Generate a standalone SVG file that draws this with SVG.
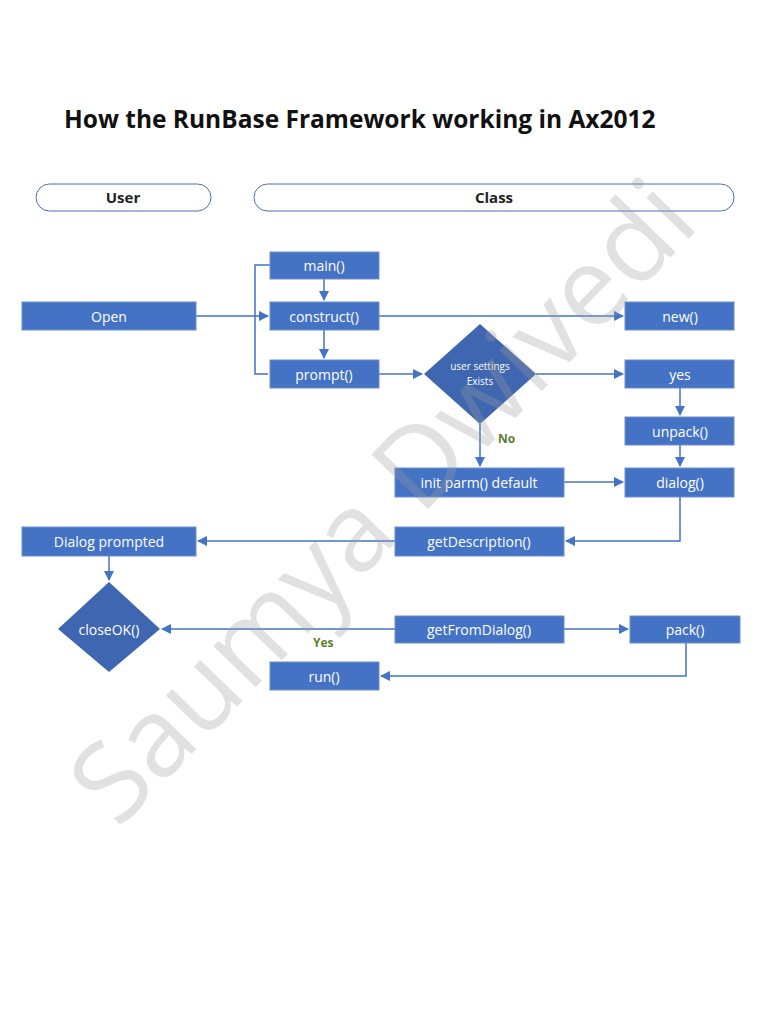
<svg xmlns="http://www.w3.org/2000/svg" width="768" height="1024" viewBox="0 0 768 1024">
<style>
.b{fill:#4472C4;stroke:#6E8FCB;stroke-width:1}
.d{fill:#3F66B0}
.t{font-family:"Liberation Sans Narrow","Open Sans",sans-serif;font-size:14px;fill:#fff;text-anchor:middle;dominant-baseline:central}
.s{font-size:10px}
.h{fill:#fff;stroke:#4A6FB0;stroke-width:1}
.ht{font-family:"Open Sans",sans-serif;font-weight:bold;font-size:15px;fill:#222;text-anchor:middle;dominant-baseline:central}
.c{fill:none;stroke:#4472C4;stroke-width:1.5}
.g{font-family:"Open Sans",sans-serif;font-weight:bold;font-size:12px;fill:#5A7F2E}
</style>
<defs><marker id="a" viewBox="0 0 10 10" refX="9" refY="5" markerWidth="7" markerHeight="7" orient="auto"><path d="M0,0L10,5L0,10z" fill="#4472C4"/></marker></defs>
<rect width="768" height="1024" fill="#fff"/>
<text x="64" y="128" font-family="Open Sans,sans-serif" font-weight="bold" font-size="24.5" fill="#111">How the RunBase Framework working in Ax2012</text>
<g id="hUser"><rect class="h" x="36" y="184" width="175" height="27" rx="13.5"/><text class="ht" x="123" y="197">User</text></g>
<g id="hClass"><rect class="h" x="254" y="184" width="480" height="27" rx="13.5"/><text class="ht" x="494" y="197">Class</text></g>
<g id="connectors">
<path class="c" d="M270,265H255V374H268"/>
<path class="c" d="M196,316H268" marker-end="url(#a)"/>
<path class="c" d="M324,279V300" marker-end="url(#a)"/>
<path class="c" d="M324,330V358" marker-end="url(#a)"/>
<path class="c" d="M379,316H623" marker-end="url(#a)"/>
<path class="c" d="M379,374H422" marker-end="url(#a)"/>
<path class="c" d="M536,374H623" marker-end="url(#a)"/>
<path class="c" d="M680,388V415" marker-end="url(#a)"/>
<path class="c" d="M680,445V466" marker-end="url(#a)"/>
<path class="c" d="M480,424V466" marker-end="url(#a)"/>
<path class="c" d="M564,482H623" marker-end="url(#a)"/>
<path class="c" d="M680,497V541H566" marker-end="url(#a)"/>
<path class="c" d="M395,541H198" marker-end="url(#a)"/>
<path class="c" d="M109,556V580" marker-end="url(#a)"/>
<path class="c" d="M395,629H162" marker-end="url(#a)"/>
<path class="c" d="M564,629H628" marker-end="url(#a)"/>
<path class="c" d="M686,643V676H381" marker-end="url(#a)"/>
</g>
<text class="g" x="498" y="443">No</text>
<text class="g" x="313" y="647">Yes</text>
<g id="main"><rect class="b" x="270" y="252" width="109" height="27"/><text class="t" x="324" y="265">main()</text></g>
<g id="open"><rect class="b" x="22" y="302" width="174" height="28"/><text class="t" x="109" y="316">Open</text></g>
<g id="construct"><rect class="b" x="270" y="302" width="109" height="28"/><text class="t" x="324" y="316">construct()</text></g>
<g id="new"><rect class="b" x="625" y="302" width="109" height="28"/><text class="t" x="680" y="316">new()</text></g>
<g id="prompt"><rect class="b" x="270" y="360" width="109" height="28"/><text class="t" x="324" y="374">prompt()</text></g>
<g id="settings"><path class="d" d="M480,324L536,374L480,424L424,374z"/><text class="t s" x="480" y="366">user settings</text><text class="t s" x="480" y="381">Exists</text></g>
<g id="yes"><rect class="b" x="625" y="360" width="109" height="28"/><text class="t" x="680" y="374">yes</text></g>
<g id="unpack"><rect class="b" x="625" y="417" width="109" height="28"/><text class="t" x="680" y="431">unpack()</text></g>
<g id="init"><rect class="b" x="395" y="468" width="169" height="29"/><text class="t" x="479" y="482">init parm() default</text></g>
<g id="dialog"><rect class="b" x="625" y="468" width="109" height="29"/><text class="t" x="680" y="482">dialog()</text></g>
<g id="dprompted"><rect class="b" x="22" y="527" width="174" height="29"/><text class="t" x="109" y="541">Dialog prompted</text></g>
<g id="getDesc"><rect class="b" x="395" y="527" width="169" height="29"/><text class="t" x="479" y="541">getDescription()</text></g>
<g id="closeOK"><path class="d" d="M109,582L160,629L109,672L58,629z"/><text class="t" x="109" y="629">closeOK()</text></g>
<g id="getFrom"><rect class="b" x="395" y="616" width="169" height="27"/><text class="t" x="479" y="629">getFromDialog()</text></g>
<g id="pack"><rect class="b" x="630" y="616" width="110" height="27"/><text class="t" x="685" y="629">pack()</text></g>
<g id="run"><rect class="b" x="270" y="662" width="109" height="28"/><text class="t" x="324" y="676">run()</text></g>
<text x="0" y="0" transform="translate(118,830) rotate(-46)" font-family="Open Sans,sans-serif" font-size="110" fill="#9a9a9a" fill-opacity="0.3">Saumya Dwivedi</text>
</svg>
